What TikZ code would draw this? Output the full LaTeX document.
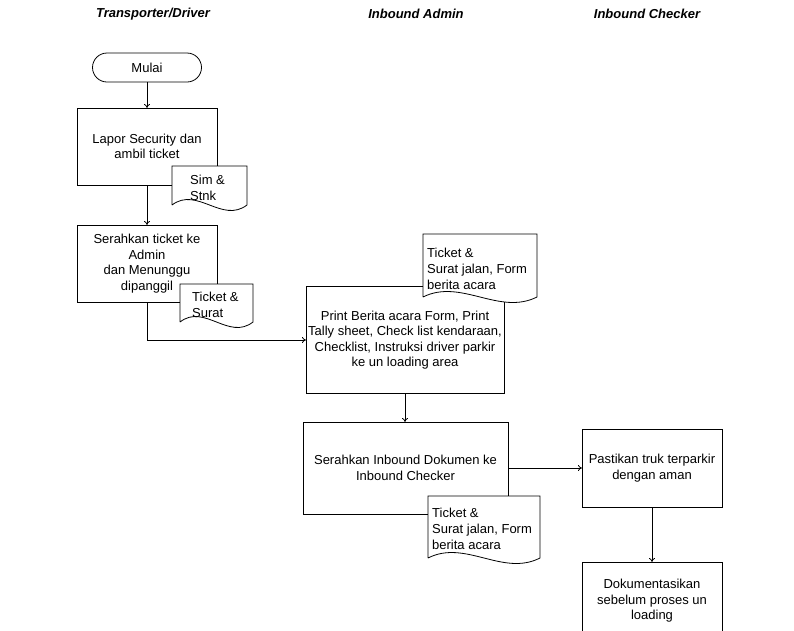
\documentclass[tikz,border=0pt]{standalone}
\usepackage{fontspec}
\setmainfont{Liberation Sans}
\usetikzlibrary{arrows.meta}
\pgfdeclarelayer{docbg}
\pgfdeclarelayer{front}
\pgfsetlayers{main,docbg,front}
\newcommand\mydocoutline[4]{% x0, y0 (top), x1, yb (bottom at ends)
  \fill[white] (#1,#2) -- (#3,#2) -- (#3,#4) .. controls ({#3-(#3-#1)/3},{#4+19}) and ({#1+(#3-#1)/3},{#4-19}) .. (#1,#4) -- cycle;
  \draw[line width=0.8pt] (#1,#4) -- (#1,#2) -- (#3,#2) -- (#3,#4) .. controls ({#3-(#3-#1)/3},{#4+19}) and ({#1+(#3-#1)/3},{#4-19}) .. (#1,#4);
}
\tikzset{
  boxnode/.style={draw, line width=0.8pt, inner sep=0pt, outer sep=0pt, align=center,
    font=\fontsize{13}{15.5}\selectfont},
  termnode/.style={boxnode, rounded corners=14.5pt},
  doctext/.style={anchor=west, inner sep=0pt, align=left, font=\fontsize{13}{16}\selectfont},
  header/.style={font=\fontsize{13}{15}\selectfont\bfseries\itshape, inner sep=0pt},
  conn/.style={line width=0.8pt, -{To[length=4pt,width=6pt]}}
}
\begin{document}
\begin{tikzpicture}[x=1pt,y=-1pt]
\useasboundingbox[fill=white] (0,0) rectangle (794,630);
% headers
\node[header] (h1) at (153,14) {Transporter/Driver};
\node[header] (h2) at (416,14) {Inbound Admin};
\node[header] (h3) at (647,14) {Inbound Checker};
% process nodes
\node[termnode, minimum width=109pt, minimum height=29pt] (mulai) at (147,67.5) {Mulai};
\node[boxnode, minimum width=140pt, minimum height=77pt] (b1) at (147,146.5) {Lapor Security dan\\ ambil ticket};
\node[boxnode, minimum width=140pt, minimum height=77pt] (b2) at (147,263.5) {Serahkan ticket ke\\Admin\\dan Menunggu\\dipanggil};
\node[boxnode, minimum width=198pt, minimum height=107pt] (b3) at (405,340) {Print Berita acara Form, Print\\Tally sheet, Check list kendaraan,\\Checklist, Instruksi driver parkir\\ke un loading area};
\node[boxnode, minimum width=205pt, minimum height=92pt] (b4) at (405.5,468) {Serahkan Inbound Dokumen ke\\Inbound Checker};
\node[boxnode, minimum width=140pt, minimum height=78pt] (b5) at (652,468) {Pastikan truk terparkir\\dengan aman};
\node[boxnode, minimum width=140pt, minimum height=78pt] (b6) at (652,601) {Dokumentasikan\\sebelum proses un\\loading};
% connectors
\draw[conn] (mulai) -- (b1);
\draw[conn] (b1) -- (b2);
\draw[conn] (b2.south) |- (b3.west);
\draw[conn] (b3.south) -- (b3.south |- b4.north);
\draw[conn] (b4.east |- b5.west) -- (b5.west);
\draw[conn] (b5) -- (b6);
% documents
\begin{pgfonlayer}{docbg}
\mydocoutline{172}{166}{247}{205}
\mydocoutline{180}{284}{253}{322}
\mydocoutline{423}{234}{537}{297}
\mydocoutline{428}{496}{540}{558}
\end{pgfonlayer}
\begin{pgfonlayer}{front}
\node[doctext] (d1) at (190,187.5) {Sim \&\\Stnk};
\node[doctext] (d2) at (192,305) {Ticket \&\\Surat};
\node[doctext] (d3) at (427,268.5) {Ticket \&\\Surat jalan, Form\\berita acara};
\node[doctext] (d4) at (432,529) {Ticket \&\\Surat jalan, Form\\berita acara};
\end{pgfonlayer}
\end{tikzpicture}
\end{document}
